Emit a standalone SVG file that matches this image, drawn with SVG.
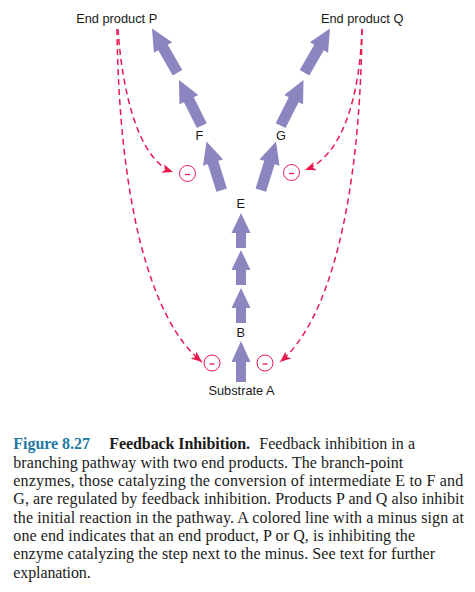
<svg xmlns="http://www.w3.org/2000/svg" width="475" height="592" viewBox="0 0 475 592">
  <style>
    .lbl { font-family: "Liberation Sans", Arial, sans-serif; font-size: 12.8px; fill: #1a1a1a; text-anchor: middle; }
    .arw { fill: #8b85c0; }
    .inh { fill: none; stroke: #ea1a50; stroke-width: 1.5; stroke-dasharray: 6 4; marker-end: url(#ah); }
    .minus circle { fill: #ffffff; stroke: #ea1a50; stroke-width: 1; }
    .minus line { stroke: #ea1a50; stroke-width: 1.3; }
    .cap { font-family: "Liberation Serif", "Times New Roman", serif; font-size: 16px; fill: #1a1a1a; }
    .fig { fill: #2279a3; font-weight: bold; }
    .bold { font-weight: bold; }
  </style>
  <defs>
    <marker id="ah" markerUnits="userSpaceOnUse" markerWidth="12" markerHeight="10" refX="11" refY="4.5" orient="auto">
      <path d="M0,0 L11,4.5 L0,9 L3,4.5 z" fill="#ea1a50"/>
    </marker>
    <polygon id="vshort" points="0,0 9.5,20 5,20 5,35 -5,35 -5,20 -9.5,20"/>
    <polygon id="vlong" points="0,0 9.5,21 5,21 5,41 -5,41 -5,21 -9.5,21"/>
    <polygon id="diag" points="0,0 10.5,22 5.5,22 5.5,51 -5.5,51 -5.5,22 -10.5,22"/>
  </defs>

  <g id="connectors">
    <path class="inh" d="M118,29 C122,90 138,160 173,172"/>
    <path class="inh" d="M117,29 C119,200 150,320 202,362"/>
    <path class="inh" d="M362,29 C360,90 345,155 305,170"/>
    <path class="inh" d="M362,29 C360,200 330,320 280,362"/>
  </g>

  <g id="pathway-arrows" class="arw">
    <use href="#vshort" transform="translate(241,213)"/>
    <use href="#vshort" transform="translate(241,250)"/>
    <use href="#vshort" transform="translate(241,288)"/>
    <use href="#vlong" transform="translate(241,341)"/>
    <use href="#diag" transform="translate(206.5,141.5) rotate(-17.3)"/>
    <use href="#diag" transform="translate(179,80) rotate(-26.6)"/>
    <use href="#diag" transform="translate(152,28.5) rotate(-30)"/>
    <use href="#diag" transform="translate(276,141.5) rotate(17.3)"/>
    <use href="#diag" transform="translate(303.5,80) rotate(26.6)"/>
    <use href="#diag" transform="translate(330,28.5) rotate(30)"/>
  </g>

  <g id="node-P"><text class="lbl" x="116.7" y="22.7">End product P</text></g>
  <g id="node-Q"><text class="lbl" x="362.2" y="22.7">End product Q</text></g>
  <g id="node-F"><text class="lbl" x="199.3" y="140">F</text></g>
  <g id="node-G"><text class="lbl" x="281" y="140">G</text></g>
  <g id="node-E"><text class="lbl" x="240.7" y="208.3">E</text></g>
  <g id="node-B"><text class="lbl" x="240.7" y="336.7">B</text></g>
  <g id="node-A"><text class="lbl" x="241.5" y="395">Substrate A</text></g>

  <g id="inhibit-F" class="minus"><circle cx="187.5" cy="173.5" r="8"/><line x1="185" y1="174.5" x2="190" y2="174.5"/></g>
  <g id="inhibit-G" class="minus"><circle cx="291.5" cy="172.5" r="8"/><line x1="289" y1="173.5" x2="294" y2="173.5"/></g>
  <g id="inhibit-A-left" class="minus"><circle cx="212" cy="363" r="8"/><line x1="209.5" y1="364" x2="214.5" y2="364"/></g>
  <g id="inhibit-A-right" class="minus"><circle cx="265" cy="363" r="8"/><line x1="262.5" y1="364" x2="267.5" y2="364"/></g>

  <g id="caption" class="cap">
    <text y="449.3"><tspan class="fig" x="13.3" textLength="76.7" lengthAdjust="spacing">Figure 8.27</tspan><tspan class="bold" x="109.3" textLength="140.7" lengthAdjust="spacing">Feedback Inhibition.</tspan><tspan x="259.3" textLength="155.7" lengthAdjust="spacing">Feedback inhibition in a</tspan></text>
    <text x="13.3" y="467.7" textLength="390" lengthAdjust="spacing">branching pathway with two end products. The branch-point</text>
    <text x="13.3" y="486" textLength="450" lengthAdjust="spacing">enzymes, those catalyzing the conversion of intermediate E to F and</text>
    <text x="13.3" y="504.3" textLength="450.7" lengthAdjust="spacing">G, are regulated by feedback inhibition. Products P and Q also inhibit</text>
    <text x="13.3" y="522.7" textLength="450.7" lengthAdjust="spacing">the initial reaction in the pathway. A colored line with a minus sign at</text>
    <text x="13.3" y="541" textLength="401.7" lengthAdjust="spacing">one end indicates that an end product, P or Q, is inhibiting the</text>
    <text x="13.3" y="559.3" textLength="421.7" lengthAdjust="spacing">enzyme catalyzing the step next to the minus. See text for further</text>
    <text x="13.3" y="577.7" textLength="77.4" lengthAdjust="spacing">explanation.</text>
  </g>
</svg>
